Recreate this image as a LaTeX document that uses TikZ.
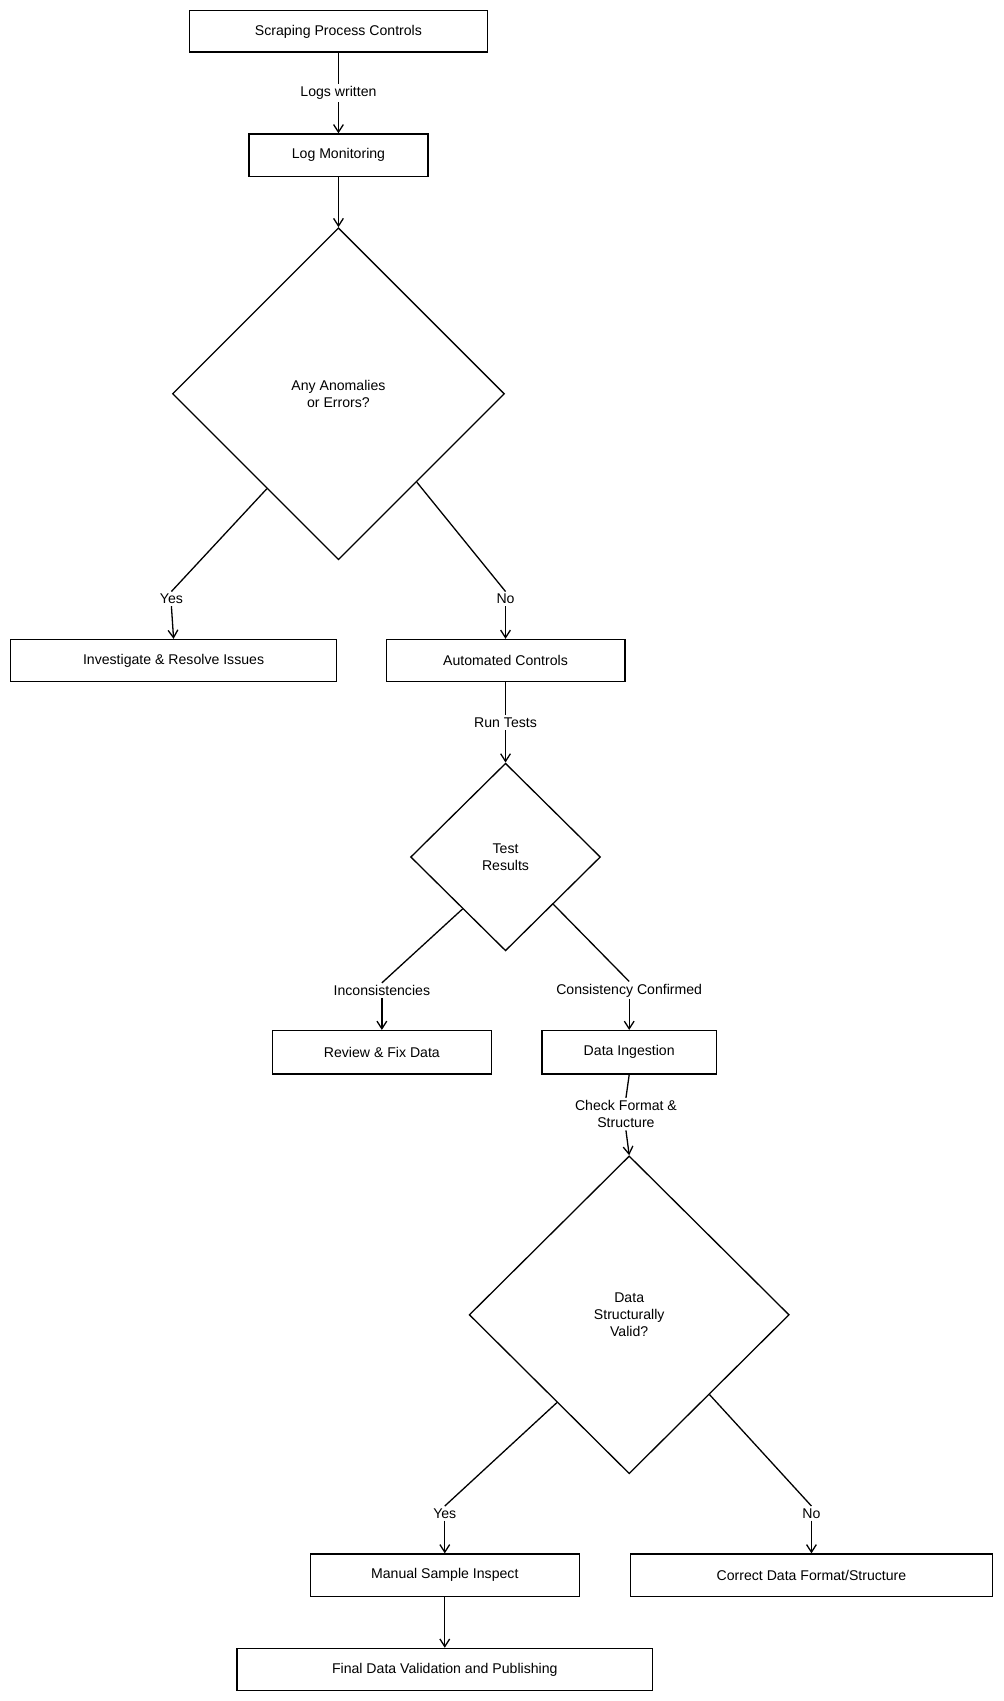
\documentclass[tikz,border=0pt]{standalone}
\usepackage{fontspec}
\setmainfont{Liberation Sans}
\usetikzlibrary{shapes.geometric,arrows.meta,calc}
\begin{document}
\begin{tikzpicture}[x=1pt,y=-1pt,
  font=\fontsize{13}{16}\selectfont,
  box/.style={draw,line width=1.2pt,inner sep=0pt,align=center},
  dia/.style={draw,line width=1.2pt,shape=diamond,inner sep=0pt,align=center},
  lbl/.style={fill=white,inner sep=2pt,align=center},
  ln/.style={line width=1.2pt},
  arr/.style={line width=1.2pt,-{Straight Barb[length=7pt,width=9pt]}}]
\useasboundingbox (0,0) rectangle (925,1568);
\node[box,minimum width=275,minimum height=38] (s) at (312,29) {Scraping Process Controls};
\node[box,minimum width=165,minimum height=39] (lm) at (312,143) {Log Monitoring};
\node[dia,minimum width=306,minimum height=306] (d1) at (312,363) {Any Anomalies\\or Errors?};
\node[box,minimum width=300,minimum height=39] (inv) at (160,609) {Investigate \& Resolve Issues};
\node[box,minimum width=220,minimum height=39] (ac) at (466,609) {Automated Controls};
\node[dia,minimum width=175,minimum height=173] (d2) at (466,790) {Test\\Results};
\node[box,minimum width=202,minimum height=40] (rf) at (352,970) {Review \& Fix Data};
\node[box,minimum width=161,minimum height=40] (di) at (580,970) {Data Ingestion};
\node[dia,minimum width=295,minimum height=293] (d3) at (580,1212) {Data\\Structurally\\Valid?};
\node[box,minimum width=248,minimum height=39] (ms) at (410,1452) {Manual Sample Inspect};
\node[box,minimum width=334,minimum height=39] (cd) at (748,1452) {Correct Data Format/Structure};
\node[box,minimum width=383,minimum height=39] (fd) at (410,1539) {Final Data Validation and Publishing};

\draw[arr] (s) -- node[lbl]{Logs written} (lm);
\draw[arr] (lm) -- (d1.north);

\node[lbl] (y1) at (158,552) {Yes};
\node[lbl] (n1) at (466,552) {No};
\coordinate (y1s) at ($(d1.west)!0.57!(d1.south)$);
\coordinate (n1s) at ($(d1.east)!0.53!(d1.south)$);
\draw[ln] (y1s) -- (y1.north);
\draw[arr] (y1.south) -- (inv.north);
\draw[ln] (n1s) -- (n1.north);
\draw[arr] (n1.south) -- (ac.north);

\draw[arr] (ac) -- node[lbl]{Run Tests} (d2.north);

\node[lbl] (ic) at (352,913) {Inconsistencies};
\node[lbl] (cc) at (580,913) {Consistency Confirmed};
\draw[ln] ($(d2.west)!0.55!(d2.south)$) -- (ic.north);
\draw[arr] (ic.south) -- (rf.north);
\draw[ln] ($(d2.east)!0.5!(d2.south)$) -- (cc.north);
\draw[arr] (cc.south) -- (di.north);

\node[lbl] (cf) at (577,1027) {Check Format \&\\Structure};
\draw[ln] (di.south) -- (cf.north);
\draw[arr] (cf.south) -- (d3.north);

\node[lbl] (y3) at (410,1395) {Yes};
\node[lbl] (n3) at (748,1395) {No};
\draw[ln] ($(d3.west)!0.55!(d3.south)$) -- (y3.north);
\draw[arr] (y3.south) -- (ms.north);
\draw[ln] ($(d3.east)!0.5!(d3.south)$) -- (n3.north);
\draw[arr] (n3.south) -- (cd.north);

\draw[arr] (ms) -- (fd);
\end{tikzpicture}
\end{document}
